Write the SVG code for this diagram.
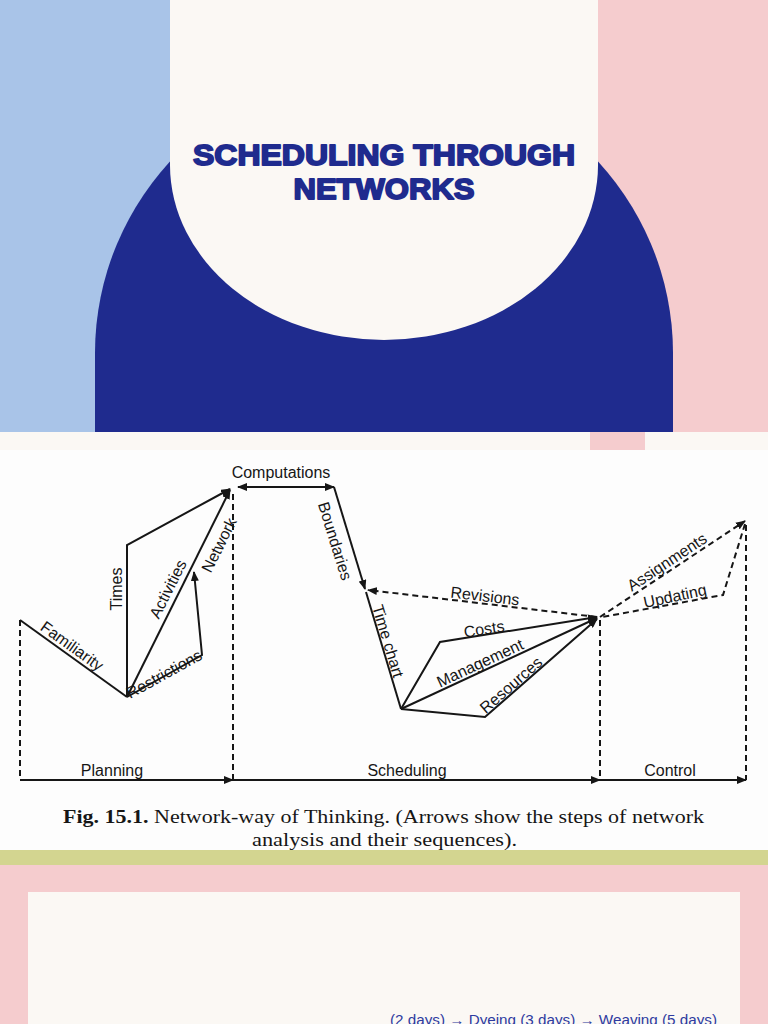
<svg xmlns="http://www.w3.org/2000/svg" width="768" height="1024" viewBox="0 0 768 1024">
<defs>
<style>
.ln{fill:none;stroke:#161616;stroke-width:2}
.ds{fill:none;stroke:#161616;stroke-width:2;stroke-dasharray:6 4}
.lb{font-family:"Liberation Sans",Arial,sans-serif;font-size:16px;fill:#161616;text-anchor:middle;dominant-baseline:central}
.cap{font-family:"Liberation Serif","Times New Roman",serif;font-size:19px;fill:#161616}
.title{font-family:"Liberation Sans",Arial,sans-serif;font-weight:bold;font-size:29px;fill:#1F2B8E;stroke:#1F2B8E;stroke-width:1.8;stroke-linejoin:round;text-anchor:middle}
</style>
<marker id="ah" viewBox="0 0 10 8" refX="9" refY="4" markerWidth="10" markerHeight="8" markerUnits="userSpaceOnUse" orient="auto-start-reverse">
<path d="M0,0 L10,4 L0,8 z" fill="#161616"/>
</marker>
</defs>

<!-- background header -->
<rect x="0" y="0" width="768" height="450" fill="#FBF8F4"/>
<rect x="0" y="0" width="170" height="432" fill="#A9C4E8"/>
<rect x="598" y="0" width="170" height="432" fill="#F5CCCE"/>
<rect x="590" y="432" width="55" height="18" fill="#F5CCCE"/>
<path d="M95,432 L95,353 A289,285 0 0 1 673,353 L673,432 Z" fill="#1F2B8E"/>
<path d="M170,0 L598,0 L598,165 A214,175 0 0 1 170,165 Z" fill="#FBF8F4"/>
<g id="title">
<text class="title" x="384" y="165" textLength="382" lengthAdjust="spacingAndGlyphs">SCHEDULING THROUGH</text>
<text class="title" x="384" y="199" textLength="181" lengthAdjust="spacingAndGlyphs">NETWORKS</text>
</g>

<!-- figure -->
<rect x="0" y="450" width="768" height="400" fill="#FDFDFD"/>
<rect x="0" y="850" width="768" height="15" fill="#D3D590"/>
<rect x="0" y="865" width="768" height="159" fill="#F5CCCE"/>
<rect x="28" y="892" width="712" height="132" fill="#FBF8F4"/>
<text x="390" y="1025" font-family="Liberation Sans,Arial,sans-serif" font-size="14" fill="#2E3BA0" textLength="327" lengthAdjust="spacingAndGlyphs">(2 days) → Dyeing (3 days) → Weaving (5 days)</text>

<g id="connectors">
<path class="ln" d="M20,620 L127,697"/>
<path class="ln" d="M127,697 L127,545 L230,489" marker-end="url(#ah)"/>
<path class="ln" d="M127,697 L230,490" marker-end="url(#ah)"/>
<path class="ln" d="M127,697 L202,655 L194,572" marker-end="url(#ah)"/>
<path class="ln" d="M238,487 L334,487" marker-start="url(#ah)" marker-end="url(#ah)"/>
<path class="ln" d="M334,487 L365,589" marker-end="url(#ah)"/>
<path class="ln" d="M366,592 L401,709"/>
<path class="ln" d="M401,709 L440,642 L597,617" marker-end="url(#ah)"/>
<path class="ln" d="M401,709 L597,618" marker-end="url(#ah)"/>
<path class="ln" d="M401,709 L485,717 L597,619" marker-end="url(#ah)"/>
<path class="ds" d="M597,617 L368,590" marker-end="url(#ah)"/>
<path class="ds" d="M600,617 L745,521" marker-end="url(#ah)"/>
<path class="ds" d="M745,524 L723,595 L602,617"/>
<path class="ds" d="M20,620 L20,780"/>
<path class="ds" d="M233,494 L233,780"/>
<path class="ds" d="M600,620 L600,780"/>
<path class="ds" d="M746,525 L746,780"/>
<path class="ln" d="M20,780 L233,780" marker-end="url(#ah)"/>
<path class="ln" d="M233,780 L600,780" marker-end="url(#ah)"/>
<path class="ln" d="M600,780 L746,780" marker-end="url(#ah)"/>
</g>

<g id="n-familiarity"><text class="lb" transform="translate(72,646) rotate(35.7)">Familiarity</text></g>
<g id="n-times"><text class="lb" transform="translate(116,589) rotate(-90)">Times</text></g>
<g id="n-activities"><text class="lb" transform="translate(168,589) rotate(-63.3)">Activities</text></g>
<g id="n-network"><text class="lb" transform="translate(219,545) rotate(-63.3)">Network</text></g>
<g id="n-restrictions"><text class="lb" transform="translate(164,674) rotate(-29)">Restrictions</text></g>
<g id="n-computations"><text class="lb" x="281" y="472">Computations</text></g>
<g id="n-boundaries"><text class="lb" transform="translate(335,541) rotate(72.7)">Boundaries</text></g>
<g id="n-revisions"><text class="lb" transform="translate(485,596) rotate(6.7)">Revisions</text></g>
<g id="n-timechart"><text class="lb" transform="translate(388,641) rotate(73.3)">Time chart</text></g>
<g id="n-costs"><text class="lb" transform="translate(484,629) rotate(-9)">Costs</text></g>
<g id="n-management"><text class="lb" transform="translate(480,663) rotate(-24.9)">Management</text></g>
<g id="n-resources"><text class="lb" transform="translate(511,685) rotate(-41.2)">Resources</text></g>
<g id="n-assignments"><text class="lb" transform="translate(667,562) rotate(-33.5)">Assignments</text></g>
<g id="n-updating"><text class="lb" transform="translate(675,596) rotate(-12)">Updating</text></g>
<g id="n-planning"><text class="lb" x="112" y="770">Planning</text></g>
<g id="n-scheduling"><text class="lb" x="407" y="770">Scheduling</text></g>
<g id="n-control"><text class="lb" x="670" y="770">Control</text></g>

<g id="caption">
<text class="cap" x="63" y="823" textLength="641" lengthAdjust="spacingAndGlyphs"><tspan font-weight="bold">Fig. 15.1.</tspan> Network-way of Thinking. (Arrows show the steps of network</text>
<text class="cap" x="252" y="846" textLength="265" lengthAdjust="spacingAndGlyphs">analysis and their sequences).</text>
</g>
</svg>
